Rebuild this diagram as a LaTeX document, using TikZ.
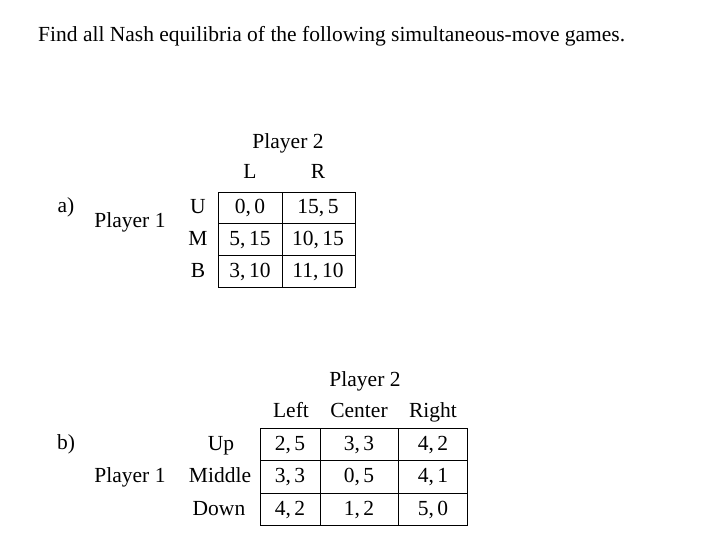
\documentclass[tikz,border=0pt]{standalone}
\usepackage{fontspec}
\setmainfont{Liberation Serif}
\begin{document}
\begin{tikzpicture}[x=1pt,y=-1pt,font=\fontsize{21.5}{24}\selectfont,
  lbl/.style={inner sep=0pt,anchor=center,text height=1.45ex,text depth=0.3ex,yshift=-4pt},
  grid/.style={draw=black,line width=0.8pt}]
\useasboundingbox (0,0) rectangle (720,550);
\node[lbl,anchor=west] (title) at (38,35) {Find all Nash equilibria of the following simultaneous-move games.};
% game a
\node[lbl] (a) at (66,206) {a)};
\node[lbl] (p2a) at (288,142) {Player 2};
\node[lbl] (p1a) at (130,221) {Player 1};
\node[lbl] (La) at (250,172) {L};
\node[lbl] (Ra) at (318,172) {R};
\node[lbl] (U) at (198,207) {U};
\node[lbl] (M) at (198,239) {M};
\node[lbl] (B) at (198,271) {B};
\draw[grid] (218,192) rectangle (355,287);
\draw[grid] (282,192) -- (282,287);
\draw[grid] (218,223) -- (355,223) (218,255) -- (355,255);
\node[lbl] (a11) at (250,207) {0,\,0};
\node[lbl] (a12) at (318,207) {15,\,5};
\node[lbl] (a21) at (250,239) {5,\,15};
\node[lbl] (a22) at (318,239) {10,\,15};
\node[lbl] (a31) at (250,271) {3,\,10};
\node[lbl] (a32) at (318,271) {11,\,10};
% game b
\node[lbl] (b) at (66,443) {b)};
\node[lbl] (p2b) at (365,380) {Player 2};
\node[lbl] (p1b) at (130,476) {Player 1};
\node[lbl] (Lb) at (291,411) {Left};
\node[lbl] (Cb) at (359,411) {Center};
\node[lbl] (Rb) at (433,411) {Right};
\node[lbl] (Up) at (221,444) {Up};
\node[lbl] (Mid) at (220,476) {Middle};
\node[lbl] (Dn) at (219,509) {Down};
\draw[grid] (260,428) rectangle (467,525);
\draw[grid] (320,428) -- (320,525) (398,428) -- (398,525);
\draw[grid] (260,460) -- (467,460) (260,493) -- (467,493);
\node[lbl] (b11) at (290,444) {2,\,5};
\node[lbl] (b12) at (359,444) {3,\,3};
\node[lbl] (b13) at (433,444) {4,\,2};
\node[lbl] (b21) at (290,476) {3,\,3};
\node[lbl] (b22) at (359,476) {0,\,5};
\node[lbl] (b23) at (433,476) {4,\,1};
\node[lbl] (b31) at (290,509) {4,\,2};
\node[lbl] (b32) at (359,509) {1,\,2};
\node[lbl] (b33) at (433,509) {5,\,0};
\end{tikzpicture}
\end{document}
